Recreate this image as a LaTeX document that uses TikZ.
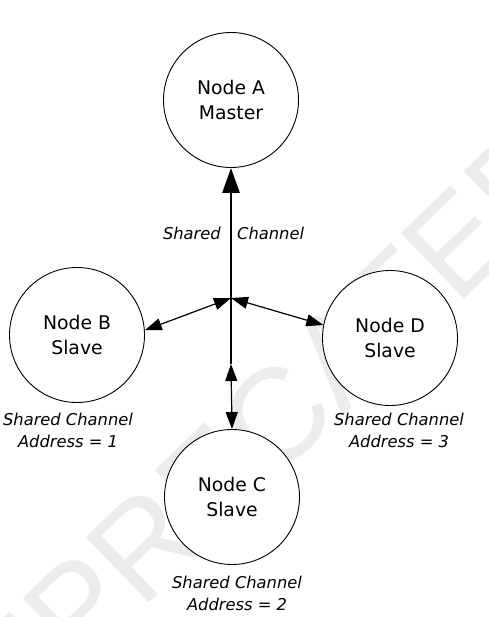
\documentclass[tikz,border=0pt]{standalone}
\usepackage{fontspec}
\setmainfont{DejaVu Sans}[ItalicFont={DejaVu Sans Oblique}]
\newfontfamily\markfont{Liberation Sans}
\usetikzlibrary{arrows.meta,positioning}

\tikzset{
  station/.style={circle,draw,fill=white,line width=0.9pt,minimum size=135pt,
    inner sep=0pt,align=center,font=\fontsize{18.8}{25}\selectfont},
  addr/.style={align=center,inner sep=0pt,font=\fontsize{16.3}{22}\selectfont\itshape},
  bus/.style={line width=2.8pt,-{Triangle[length=25pt,width=17pt]}},
  link/.style={line width=1.2pt,{Triangle[length=17pt,width=12pt]}-{Triangle[length=17pt,width=12pt]}},
}

\begin{document}
\begin{tikzpicture}[x=1pt,y=-1pt]
  \useasboundingbox (0,0) rectangle (488,617);
  % watermark behind everything
  \node[text=gray!15,font=\markfont\fontsize{132}{132}\selectfont,rotate=44] (stamp) at (236,456) {DEPRECATED};

  \node[station] (A) at (231,100) {Node A\\Master};
  \node[station] (B) at (77,335) {Node B\\Slave};
  \node[station] (C) at (232,497) {Node C\\Slave};
  \node[station] (D) at (390,338) {Node D\\Slave};

  \coordinate (hub) at (231,298);
  \coordinate (split) at (231,364);

  \draw[bus] (split) -- (A.south);
  \draw[link] (split) -- (C.north);
  \draw[link] (hub) -- (B.4);
  \draw[link] (hub) -- (D.169);

  \node[addr,anchor=east] (shared) at (221,233) {Shared};
  \node[addr,anchor=west] (channel) at (237,233) {Channel};

  \node[addr] (addrB) at (68,430) {Shared Channel\\Address = 1};
  \node[addr] (addrD) at (399,430) {Shared Channel\\Address = 3};
  \node[addr] (addrC) at (237,593) {Shared Channel\\Address = 2};
\end{tikzpicture}
\end{document}
